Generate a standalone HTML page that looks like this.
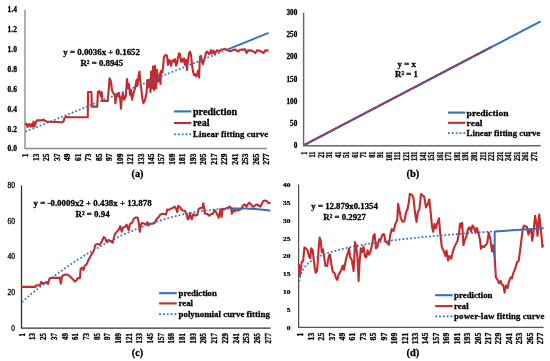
<!DOCTYPE html>
<html><head><meta charset="utf-8"><title>Prediction charts</title>
<style>
html,body{margin:0;padding:0;background:#fff;}
body{width:550px;height:361px;overflow:hidden;}
svg{display:block;font-family:'Liberation Serif', 'Times New Roman', serif;}
text{fill:#000;stroke:#000;stroke-width:0.28px;}
</style></head>
<body>
<svg width="550" height="361" viewBox="0 0 550 361">
<rect width="550" height="361" fill="#fff"/>
<polyline points="25,10 25,148.5 267,148.5" fill="none" stroke="#8c8c8c" stroke-width="1.4"/>
<text transform="translate(16.90,151.47) scale(1,1.04)" font-size="7.5" text-anchor="end" font-weight="bold">0.0</text>
<text transform="translate(16.90,131.57) scale(1,1.04)" font-size="7.5" text-anchor="end" font-weight="bold">0.2</text>
<text transform="translate(16.90,111.67) scale(1,1.04)" font-size="7.5" text-anchor="end" font-weight="bold">0.4</text>
<text transform="translate(16.90,91.77) scale(1,1.04)" font-size="7.5" text-anchor="end" font-weight="bold">0.6</text>
<text transform="translate(16.90,71.87) scale(1,1.04)" font-size="7.5" text-anchor="end" font-weight="bold">0.8</text>
<text transform="translate(16.90,51.97) scale(1,1.04)" font-size="7.5" text-anchor="end" font-weight="bold">1.0</text>
<text transform="translate(16.90,32.07) scale(1,1.04)" font-size="7.5" text-anchor="end" font-weight="bold">1.2</text>
<text transform="translate(16.90,12.17) scale(1,1.04)" font-size="7.5" text-anchor="end" font-weight="bold">1.4</text>
<text transform="translate(28.38,153.60) rotate(-90) scale(1,1.2)" font-size="7.4" text-anchor="end" font-weight="bold">1</text>
<text transform="translate(38.85,153.60) rotate(-90) scale(1,1.2)" font-size="7.4" text-anchor="end" font-weight="bold">13</text>
<text transform="translate(49.32,153.60) rotate(-90) scale(1,1.2)" font-size="7.4" text-anchor="end" font-weight="bold">25</text>
<text transform="translate(59.78,153.60) rotate(-90) scale(1,1.2)" font-size="7.4" text-anchor="end" font-weight="bold">37</text>
<text transform="translate(70.25,153.60) rotate(-90) scale(1,1.2)" font-size="7.4" text-anchor="end" font-weight="bold">49</text>
<text transform="translate(80.72,153.60) rotate(-90) scale(1,1.2)" font-size="7.4" text-anchor="end" font-weight="bold">61</text>
<text transform="translate(91.19,153.60) rotate(-90) scale(1,1.2)" font-size="7.4" text-anchor="end" font-weight="bold">73</text>
<text transform="translate(101.65,153.60) rotate(-90) scale(1,1.2)" font-size="7.4" text-anchor="end" font-weight="bold">85</text>
<text transform="translate(112.12,153.60) rotate(-90) scale(1,1.2)" font-size="7.4" text-anchor="end" font-weight="bold">97</text>
<text transform="translate(122.59,153.60) rotate(-90) scale(1,1.2)" font-size="7.4" text-anchor="end" font-weight="bold">109</text>
<text transform="translate(133.06,153.60) rotate(-90) scale(1,1.2)" font-size="7.4" text-anchor="end" font-weight="bold">121</text>
<text transform="translate(143.52,153.60) rotate(-90) scale(1,1.2)" font-size="7.4" text-anchor="end" font-weight="bold">133</text>
<text transform="translate(153.99,153.60) rotate(-90) scale(1,1.2)" font-size="7.4" text-anchor="end" font-weight="bold">145</text>
<text transform="translate(164.46,153.60) rotate(-90) scale(1,1.2)" font-size="7.4" text-anchor="end" font-weight="bold">157</text>
<text transform="translate(174.93,153.60) rotate(-90) scale(1,1.2)" font-size="7.4" text-anchor="end" font-weight="bold">169</text>
<text transform="translate(185.39,153.60) rotate(-90) scale(1,1.2)" font-size="7.4" text-anchor="end" font-weight="bold">181</text>
<text transform="translate(195.86,153.60) rotate(-90) scale(1,1.2)" font-size="7.4" text-anchor="end" font-weight="bold">193</text>
<text transform="translate(206.33,153.60) rotate(-90) scale(1,1.2)" font-size="7.4" text-anchor="end" font-weight="bold">205</text>
<text transform="translate(216.80,153.60) rotate(-90) scale(1,1.2)" font-size="7.4" text-anchor="end" font-weight="bold">217</text>
<text transform="translate(227.26,153.60) rotate(-90) scale(1,1.2)" font-size="7.4" text-anchor="end" font-weight="bold">229</text>
<text transform="translate(237.73,153.60) rotate(-90) scale(1,1.2)" font-size="7.4" text-anchor="end" font-weight="bold">241</text>
<text transform="translate(248.20,153.60) rotate(-90) scale(1,1.2)" font-size="7.4" text-anchor="end" font-weight="bold">253</text>
<text transform="translate(258.67,153.60) rotate(-90) scale(1,1.2)" font-size="7.4" text-anchor="end" font-weight="bold">265</text>
<text transform="translate(269.14,153.60) rotate(-90) scale(1,1.2)" font-size="7.4" text-anchor="end" font-weight="bold">277</text>
<polyline points="25.3,125.0 26.5,123.5 27.5,127.0 29.0,124.0 30.5,126.5 31.5,124.0 32.5,126.5 33.5,121.5 34.3,126.5 35.3,124.5 36.0,122.0 37.0,120.4 39.0,120.4 42.0,120.4 43.6,119.5 45.0,121.0 47.0,121.6 55.0,122.0 62.0,122.3 63.5,121.5 64.5,118.0 66.0,116.9 70.0,117.2 80.0,117.2 87.8,117.2 88.0,92.0 91.4,92.0 91.8,106.6 97.2,106.6 97.9,92.0 99.4,91.2 101.0,96.5 101.7,92.0 102.5,101.0 107.8,101.0 109.6,78.3 110.9,81.3 112.0,90.4 113.1,92.7 114.7,95.0 115.4,103.3 116.6,93.5 117.7,96.5 118.8,92.7 120.3,99.5 121.0,108.7 121.7,98.2 123.0,93.2 124.0,99.8 125.8,96.5 127.0,79.0 128.0,88.2 129.0,84.0 130.0,94.9 131.0,89.9 132.0,99.8 133.5,93.2 135.0,88.2 136.6,79.9 137.5,85.7 138.6,75.7 139.5,71.6 140.5,83.2 141.5,90.7 142.5,99.8 143.5,103.2 145.0,99.8 146.5,93.2 147.3,80.0 148.0,87.4 149.0,79.9 150.0,83.2 150.5,92.0 151.0,71.6 152.0,88.2 153.0,66.6 154.0,89.9 155.0,65.8 156.0,88.2 157.0,69.9 158.0,81.6 159.0,79.9 160.0,73.3 160.5,84.0 161.0,70.7 162.5,72.4 164.0,56.6 165.5,55.0 167.0,55.8 168.0,64.9 169.0,60.0 170.0,60.8 171.0,65.7 172.0,61.6 173.0,60.0 174.0,61.6 175.0,59.1 176.0,65.7 177.0,63.3 178.0,57.4 179.0,53.3 180.0,54.1 181.0,61.6 182.0,59.1 183.0,61.6 184.0,58.3 185.0,64.9 186.0,60.0 187.0,69.9 188.0,60.0 189.0,53.3 190.0,51.6 191.0,55.0 192.0,64.9 193.0,71.6 194.0,74.9 195.0,74.0 196.0,76.5 197.0,74.9 198.0,70.7 199.0,77.4 200.0,56.6 201.0,55.8 202.0,61.6 203.0,64.1 204.0,59.9 205.0,57.4 206.0,52.5 207.0,51.6 208.0,52.5 209.0,54.1 210.0,53.3 211.0,50.0 212.0,53.4 213.5,50.7 214.8,54.3 217.0,50.1 219.0,51.6 221.0,49.8 225.0,48.9 230.0,51.2 235.0,49.4 238.2,51.6 240.0,49.8 245.0,49.4 246.6,53.0 248.0,50.4 252.0,50.6 255.4,53.0 257.0,50.4 260.0,50.8 263.6,53.0 265.0,50.4 268.5,50.6" fill="none" stroke="#C42B2E" stroke-width="2.1" stroke-linejoin="round" stroke-linecap="butt" />
<line x1="25.4" y1="131.7" x2="225.4" y2="50.39999999999999" stroke="#2E6FC8" stroke-width="1.7" stroke-dasharray="1.8 2.05"/>
<line x1="225.4" y1="50.39999999999999" x2="268.6" y2="32.83919999999999" stroke="#3470C0" stroke-width="2.0" />
<text transform="translate(101.65,55.30) scale(1,0.9)" font-size="8.88" text-anchor="middle" font-weight="bold" >y = 0.0036x + 0.1652</text>
<text transform="translate(101.80,65.50) scale(1,0.9)" font-size="8.85" text-anchor="middle" font-weight="bold" >R² = 0.8945</text>
<line x1="174" y1="111.4" x2="191.4" y2="111.4" stroke="#3470C0" stroke-width="2.1" />
<line x1="174" y1="123" x2="191.4" y2="123" stroke="#C42B2E" stroke-width="2.1" />
<line x1="174" y1="134.4" x2="191.4" y2="134.4" stroke="#2E6FC8" stroke-width="1.7" stroke-dasharray="1.8 2.05"/>
<text transform="translate(193.00,114.60) scale(1,1.0)" font-size="10.1" text-anchor="start" font-weight="bold" >prediction</text>
<text transform="translate(193.00,125.60) scale(1,1.0)" font-size="10.0" text-anchor="start" font-weight="bold" >real</text>
<text transform="translate(193.00,137.20) scale(1,0.9)" font-size="8.8" text-anchor="start" font-weight="bold" letter-spacing="0.08">Linear fitting curve</text>
<text transform="translate(137.50,177.30) scale(1,1.05)" font-size="10.2" text-anchor="middle" font-weight="bold" >(a)</text>
<polyline points="303.6,12.8 303.6,145.7 540.5,145.7" fill="none" stroke="#666" stroke-width="1.4"/>
<text transform="translate(297.30,148.49) scale(1,1.05)" font-size="7.2" text-anchor="end" font-weight="bold">0</text>
<text transform="translate(297.30,126.24) scale(1,1.05)" font-size="7.2" text-anchor="end" font-weight="bold">50</text>
<text transform="translate(297.30,103.99) scale(1,1.05)" font-size="7.2" text-anchor="end" font-weight="bold">100</text>
<text transform="translate(297.30,81.74) scale(1,1.05)" font-size="7.2" text-anchor="end" font-weight="bold">150</text>
<text transform="translate(297.30,59.49) scale(1,1.05)" font-size="7.2" text-anchor="end" font-weight="bold">200</text>
<text transform="translate(297.30,37.24) scale(1,1.05)" font-size="7.2" text-anchor="end" font-weight="bold">250</text>
<text transform="translate(297.30,14.99) scale(1,1.05)" font-size="7.2" text-anchor="end" font-weight="bold">300</text>
<text transform="translate(306.85,151.50) rotate(-90) scale(1,1.3)" font-size="6.3" text-anchor="end" font-weight="bold">1</text>
<text transform="translate(315.36,151.50) rotate(-90) scale(1,1.3)" font-size="6.3" text-anchor="end" font-weight="bold">11</text>
<text transform="translate(323.87,151.50) rotate(-90) scale(1,1.3)" font-size="6.3" text-anchor="end" font-weight="bold">21</text>
<text transform="translate(332.37,151.50) rotate(-90) scale(1,1.3)" font-size="6.3" text-anchor="end" font-weight="bold">31</text>
<text transform="translate(340.88,151.50) rotate(-90) scale(1,1.3)" font-size="6.3" text-anchor="end" font-weight="bold">41</text>
<text transform="translate(349.39,151.50) rotate(-90) scale(1,1.3)" font-size="6.3" text-anchor="end" font-weight="bold">51</text>
<text transform="translate(357.89,151.50) rotate(-90) scale(1,1.3)" font-size="6.3" text-anchor="end" font-weight="bold">61</text>
<text transform="translate(366.40,151.50) rotate(-90) scale(1,1.3)" font-size="6.3" text-anchor="end" font-weight="bold">71</text>
<text transform="translate(374.91,151.50) rotate(-90) scale(1,1.3)" font-size="6.3" text-anchor="end" font-weight="bold">81</text>
<text transform="translate(383.42,151.50) rotate(-90) scale(1,1.3)" font-size="6.3" text-anchor="end" font-weight="bold">91</text>
<text transform="translate(391.92,151.50) rotate(-90) scale(1,1.3)" font-size="6.3" text-anchor="end" font-weight="bold">101</text>
<text transform="translate(400.43,151.50) rotate(-90) scale(1,1.3)" font-size="6.3" text-anchor="end" font-weight="bold">111</text>
<text transform="translate(408.94,151.50) rotate(-90) scale(1,1.3)" font-size="6.3" text-anchor="end" font-weight="bold">121</text>
<text transform="translate(417.44,151.50) rotate(-90) scale(1,1.3)" font-size="6.3" text-anchor="end" font-weight="bold">131</text>
<text transform="translate(425.95,151.50) rotate(-90) scale(1,1.3)" font-size="6.3" text-anchor="end" font-weight="bold">141</text>
<text transform="translate(434.46,151.50) rotate(-90) scale(1,1.3)" font-size="6.3" text-anchor="end" font-weight="bold">151</text>
<text transform="translate(442.96,151.50) rotate(-90) scale(1,1.3)" font-size="6.3" text-anchor="end" font-weight="bold">161</text>
<text transform="translate(451.47,151.50) rotate(-90) scale(1,1.3)" font-size="6.3" text-anchor="end" font-weight="bold">171</text>
<text transform="translate(459.98,151.50) rotate(-90) scale(1,1.3)" font-size="6.3" text-anchor="end" font-weight="bold">181</text>
<text transform="translate(468.49,151.50) rotate(-90) scale(1,1.3)" font-size="6.3" text-anchor="end" font-weight="bold">191</text>
<text transform="translate(476.99,151.50) rotate(-90) scale(1,1.3)" font-size="6.3" text-anchor="end" font-weight="bold">201</text>
<text transform="translate(485.50,151.50) rotate(-90) scale(1,1.3)" font-size="6.3" text-anchor="end" font-weight="bold">211</text>
<text transform="translate(494.01,151.50) rotate(-90) scale(1,1.3)" font-size="6.3" text-anchor="end" font-weight="bold">221</text>
<text transform="translate(502.51,151.50) rotate(-90) scale(1,1.3)" font-size="6.3" text-anchor="end" font-weight="bold">231</text>
<text transform="translate(511.02,151.50) rotate(-90) scale(1,1.3)" font-size="6.3" text-anchor="end" font-weight="bold">241</text>
<text transform="translate(519.53,151.50) rotate(-90) scale(1,1.3)" font-size="6.3" text-anchor="end" font-weight="bold">251</text>
<text transform="translate(528.03,151.50) rotate(-90) scale(1,1.3)" font-size="6.3" text-anchor="end" font-weight="bold">261</text>
<text transform="translate(536.54,151.50) rotate(-90) scale(1,1.3)" font-size="6.3" text-anchor="end" font-weight="bold">271</text>
<line x1="304" y1="145.1" x2="540.6" y2="21.28721999999999" stroke="#3470C0" stroke-width="2.0" />
<line x1="304" y1="145.1" x2="491.6" y2="46.92891999999999" stroke="#C42B2E" stroke-width="2.0" />
<line x1="304" y1="145.1" x2="491.6" y2="46.92891999999999" stroke="#2E6FC8" stroke-width="2.0" stroke-dasharray="1.5 1.5"/>
<text transform="translate(406.70,67.00) scale(1,0.9)" font-size="8.8" text-anchor="middle" font-weight="bold" >y = x</text>
<text transform="translate(406.50,77.20) scale(1,0.9)" font-size="8.8" text-anchor="middle" font-weight="bold" >R² = 1</text>
<line x1="448" y1="112.6" x2="465.4" y2="112.6" stroke="#3470C0" stroke-width="2.1" />
<line x1="448" y1="122.8" x2="465.4" y2="122.8" stroke="#C42B2E" stroke-width="2.1" />
<line x1="448" y1="133.2" x2="465.4" y2="133.2" stroke="#2E6FC8" stroke-width="1.7" stroke-dasharray="1.8 2.05"/>
<text transform="translate(466.60,115.60) scale(1,0.95)" font-size="9.6" text-anchor="start" font-weight="bold" >prediction</text>
<text transform="translate(466.60,125.70) scale(1,0.95)" font-size="9.6" text-anchor="start" font-weight="bold" >real</text>
<text transform="translate(466.60,136.20) scale(1,0.9)" font-size="8.7" text-anchor="start" font-weight="bold" letter-spacing="0.05">Linear fitting curve</text>
<text transform="translate(412.90,177.40) scale(1,1.0)" font-size="10.5" text-anchor="middle" font-weight="bold" >(b)</text>
<polyline points="21.5,185.5 21.5,328.2 270.6,328.2" fill="none" stroke="#333" stroke-width="1.3"/>
<text transform="translate(15.00,330.58) scale(1,0.95)" font-size="7.6" text-anchor="end" font-weight="normal">0</text>
<text transform="translate(15.00,294.98) scale(1,0.95)" font-size="7.6" text-anchor="end" font-weight="normal">20</text>
<text transform="translate(15.00,259.38) scale(1,0.95)" font-size="7.6" text-anchor="end" font-weight="normal">40</text>
<text transform="translate(15.00,223.78) scale(1,0.95)" font-size="7.6" text-anchor="end" font-weight="normal">60</text>
<text transform="translate(15.00,188.18) scale(1,0.95)" font-size="7.6" text-anchor="end" font-weight="normal">80</text>
<text transform="translate(24.76,333.10) rotate(-90) scale(1,1.28)" font-size="6.9" text-anchor="end" font-weight="bold">1</text>
<text transform="translate(35.45,333.10) rotate(-90) scale(1,1.28)" font-size="6.9" text-anchor="end" font-weight="bold">13</text>
<text transform="translate(46.14,333.10) rotate(-90) scale(1,1.28)" font-size="6.9" text-anchor="end" font-weight="bold">25</text>
<text transform="translate(56.83,333.10) rotate(-90) scale(1,1.28)" font-size="6.9" text-anchor="end" font-weight="bold">37</text>
<text transform="translate(67.51,333.10) rotate(-90) scale(1,1.28)" font-size="6.9" text-anchor="end" font-weight="bold">49</text>
<text transform="translate(78.20,333.10) rotate(-90) scale(1,1.28)" font-size="6.9" text-anchor="end" font-weight="bold">61</text>
<text transform="translate(88.89,333.10) rotate(-90) scale(1,1.28)" font-size="6.9" text-anchor="end" font-weight="bold">73</text>
<text transform="translate(99.57,333.10) rotate(-90) scale(1,1.28)" font-size="6.9" text-anchor="end" font-weight="bold">85</text>
<text transform="translate(110.26,333.10) rotate(-90) scale(1,1.28)" font-size="6.9" text-anchor="end" font-weight="bold">97</text>
<text transform="translate(120.95,333.10) rotate(-90) scale(1,1.28)" font-size="6.9" text-anchor="end" font-weight="bold">109</text>
<text transform="translate(131.64,333.10) rotate(-90) scale(1,1.28)" font-size="6.9" text-anchor="end" font-weight="bold">121</text>
<text transform="translate(142.32,333.10) rotate(-90) scale(1,1.28)" font-size="6.9" text-anchor="end" font-weight="bold">133</text>
<text transform="translate(153.01,333.10) rotate(-90) scale(1,1.28)" font-size="6.9" text-anchor="end" font-weight="bold">145</text>
<text transform="translate(163.70,333.10) rotate(-90) scale(1,1.28)" font-size="6.9" text-anchor="end" font-weight="bold">157</text>
<text transform="translate(174.39,333.10) rotate(-90) scale(1,1.28)" font-size="6.9" text-anchor="end" font-weight="bold">169</text>
<text transform="translate(185.07,333.10) rotate(-90) scale(1,1.28)" font-size="6.9" text-anchor="end" font-weight="bold">181</text>
<text transform="translate(195.76,333.10) rotate(-90) scale(1,1.28)" font-size="6.9" text-anchor="end" font-weight="bold">193</text>
<text transform="translate(206.45,333.10) rotate(-90) scale(1,1.28)" font-size="6.9" text-anchor="end" font-weight="bold">205</text>
<text transform="translate(217.13,333.10) rotate(-90) scale(1,1.28)" font-size="6.9" text-anchor="end" font-weight="bold">217</text>
<text transform="translate(227.82,333.10) rotate(-90) scale(1,1.28)" font-size="6.9" text-anchor="end" font-weight="bold">229</text>
<text transform="translate(238.51,333.10) rotate(-90) scale(1,1.28)" font-size="6.9" text-anchor="end" font-weight="bold">241</text>
<text transform="translate(249.20,333.10) rotate(-90) scale(1,1.28)" font-size="6.9" text-anchor="end" font-weight="bold">253</text>
<text transform="translate(259.88,333.10) rotate(-90) scale(1,1.28)" font-size="6.9" text-anchor="end" font-weight="bold">265</text>
<text transform="translate(270.57,333.10) rotate(-90) scale(1,1.28)" font-size="6.9" text-anchor="end" font-weight="bold">277</text>
<polyline points="21.3,286.9 35.5,286.9 36.0,285.2 40.0,285.2 41.3,281.9 43.0,284.0 44.6,283.0 47.1,282.4 48.0,284.0 49.6,278.3 51.2,277.9 58.7,277.9 59.8,277.6 60.8,283.6 61.9,276.7 63.3,275.3 65.4,274.6 67.5,274.6 69.5,276.0 71.6,278.1 73.7,280.2 75.1,281.6 76.5,280.2 77.9,278.1 79.9,278.1 80.6,269.1 82.0,267.7 83.4,269.8 84.8,265.6 86.2,264.9 87.5,262.2 88.9,259.0 90.3,256.6 91.7,253.9 93.1,252.5 94.5,248.3 95.4,244.8 97.5,244.1 99.5,244.8 101.6,242.0 103.7,237.2 105.1,237.9 106.5,242.0 108.5,240.0 110.6,241.3 112.7,242.7 114.8,234.4 116.9,231.6 118.9,229.5 120.3,226.1 121.7,231.6 123.1,227.5 125.2,226.8 126.6,224.7 128.6,230.2 130.0,224.0 132.1,222.6 134.0,218.4 135.8,217.5 137.6,217.5 139.0,223.8 139.8,231.9 141.0,224.7 142.1,222.9 143.9,223.5 145.7,224.7 147.5,222.0 148.4,225.6 150.2,223.5 152.4,223.8 154.7,222.9 156.5,219.3 158.3,217.5 160.1,214.8 161.9,213.9 163.7,213.9 166.1,214.5 167.3,209.4 169.1,209.8 171.0,208.5 172.7,208.0 174.5,206.7 176.0,208.5 177.3,212.1 178.2,205.8 180.0,207.0 181.4,209.4 182.8,210.5 184.8,210.8 186.6,214.2 187.6,219.1 188.6,219.1 190.0,212.9 190.8,217.0 191.8,219.4 193.2,214.2 195.2,215.6 197.3,214.9 198.7,208.7 200.8,208.0 202.4,207.7 203.3,203.2 204.2,208.7 204.9,213.5 207.0,213.8 209.1,215.6 211.2,214.2 213.2,213.5 214.6,210.1 216.0,211.9 217.4,214.9 218.8,217.7 220.2,209.4 221.6,217.0 222.7,208.7 224.3,209.4 226.4,208.0 227.2,208.3 229.4,206.6 231.1,207.7 231.9,213.8 233.0,208.8 234.4,211.6 235.5,210.0 237.7,210.5 240.0,209.7 241.4,208.8 243.0,205.5 245.0,204.4 246.6,206.6 248.1,203.9 249.4,202.7 251.1,204.4 252.5,206.6 254.0,206.6 255.5,205.0 257.2,204.4 258.3,205.5 260.3,206.6 261.6,204.4 263.2,201.1 264.9,200.5 266.6,201.1 268.2,202.7 270.5,203.3" fill="none" stroke="#C42B2E" stroke-width="2.1" stroke-linejoin="round" stroke-linecap="butt" />
<polyline points="21.8,302.0 22.7,301.3 23.6,300.5 24.5,299.7 25.4,299.0 26.3,298.2 27.1,297.5 28.0,296.7 28.9,296.0 29.8,295.2 30.7,294.5 31.6,293.7 32.5,293.0 33.4,292.3 34.3,291.5 35.2,290.8 36.0,290.1 36.9,289.4 37.8,288.7 38.7,287.9 39.6,287.2 40.5,286.5 41.4,285.8 42.3,285.1 43.2,284.4 44.1,283.7 45.0,283.0 45.8,282.4 46.7,281.7 47.6,281.0 48.5,280.3 49.4,279.6 50.3,279.0 51.2,278.3 52.1,277.6 53.0,277.0 53.9,276.3 54.8,275.6 55.6,275.0 56.5,274.3 57.4,273.7 58.3,273.1 59.2,272.4 60.1,271.8 61.0,271.1 61.9,270.5 62.8,269.9 63.7,269.3 64.5,268.6 65.4,268.0 66.3,267.4 67.2,266.8 68.1,266.2 69.0,265.6 69.9,265.0 70.8,264.4 71.7,263.8 72.6,263.2 73.5,262.6 74.3,262.0 75.2,261.4 76.1,260.9 77.0,260.3 77.9,259.7 78.8,259.1 79.7,258.6 80.6,258.0 81.5,257.4 82.4,256.9 83.3,256.3 84.1,255.8 85.0,255.2 85.9,254.7 86.8,254.1 87.7,253.6 88.6,253.1 89.5,252.5 90.4,252.0 91.3,251.5 92.2,251.0 93.0,250.4 93.9,249.9 94.8,249.4 95.7,248.9 96.6,248.4 97.5,247.9 98.4,247.4 99.3,246.9 100.2,246.4 101.1,245.9 102.0,245.4 102.8,244.9 103.7,244.5 104.6,244.0 105.5,243.5 106.4,243.0 107.3,242.6 108.2,242.1 109.1,241.6 110.0,241.2 110.9,240.7 111.8,240.3 112.6,239.8 113.5,239.4 114.4,238.9 115.3,238.5 116.2,238.1 117.1,237.6 118.0,237.2 118.9,236.8 119.8,236.4 120.7,235.9 121.5,235.5 122.4,235.1 123.3,234.7 124.2,234.3 125.1,233.9 126.0,233.5 126.9,233.1 127.8,232.7 128.7,232.3 129.6,231.9 130.5,231.5 131.3,231.1 132.2,230.8 133.1,230.4 134.0,230.0 134.9,229.6 135.8,229.3 136.7,228.9 137.6,228.6 138.5,228.2 139.4,227.8 140.2,227.5 141.1,227.2 142.0,226.8 142.9,226.5 143.8,226.1 144.7,225.8 145.6,225.5 146.5,225.1 147.4,224.8 148.3,224.5 149.2,224.2 150.0,223.9 150.9,223.5 151.8,223.2 152.7,222.9 153.6,222.6 154.5,222.3 155.4,222.0 156.3,221.7 157.2,221.5 158.1,221.2 159.0,220.9 159.8,220.6 160.7,220.3 161.6,220.1 162.5,219.8 163.4,219.5 164.3,219.3 165.2,219.0 166.1,218.7 167.0,218.5 167.9,218.2 168.7,218.0 169.6,217.7 170.5,217.5 171.4,217.3 172.3,217.0 173.2,216.8 174.1,216.6 175.0,216.3 175.9,216.1 176.8,215.9 177.7,215.7 178.5,215.5 179.4,215.2 180.3,215.0 181.2,214.8 182.1,214.6 183.0,214.4 183.9,214.2 184.8,214.1 185.7,213.9 186.6,213.7 187.5,213.5 188.3,213.3 189.2,213.2 190.1,213.0 191.0,212.8 191.9,212.6 192.8,212.5 193.7,212.3 194.6,212.2 195.5,212.0 196.4,211.9 197.2,211.7 198.1,211.6 199.0,211.4 199.9,211.3 200.8,211.2 201.7,211.0 202.6,210.9 203.5,210.8 204.4,210.7 205.3,210.5 206.2,210.4 207.0,210.3 207.9,210.2 208.8,210.1 209.7,210.0 210.6,209.9 211.5,209.8 212.4,209.7 213.3,209.6 214.2,209.6 215.1,209.5 216.0,209.4 216.8,209.3 217.7,209.2 218.6,209.2 219.5,209.1 220.4,209.0 221.3,209.0 222.2,208.9 223.1,208.9 224.0,208.8 224.9,208.8 225.7,208.7 226.6,208.7 227.5,208.7 228.4,208.6" fill="none" stroke="#2E6FC8" stroke-width="1.7" stroke-linejoin="round" stroke-linecap="butt" stroke-dasharray="1.8 2.05"/>
<polyline points="229.3,208.6 230.2,208.6 231.1,208.5 232.0,208.5 232.9,208.5 233.8,208.5 234.7,208.5 235.5,208.5 236.4,208.4 237.3,208.4 238.2,208.4 239.1,208.4 240.0,208.5 240.9,208.5 241.8,208.5 242.7,208.5 243.6,208.5 244.4,208.5 245.3,208.6 246.2,208.6 247.1,208.6 248.0,208.7 248.9,208.7 249.8,208.7 250.7,208.8 251.6,208.8 252.5,208.9 253.4,208.9 254.2,209.0 255.1,209.1 256.0,209.1 256.9,209.2 257.8,209.3 258.7,209.3 259.6,209.4 260.5,209.5 261.4,209.6 262.3,209.7 263.2,209.8 264.0,209.8 264.9,209.9 265.8,210.0 266.7,210.1 267.6,210.3 268.5,210.4 269.4,210.5 270.3,210.6" fill="none" stroke="#3470C0" stroke-width="2.0" stroke-linejoin="round" stroke-linecap="butt" />
<text transform="translate(92.60,206.30) scale(1,0.9)" font-size="8.9" text-anchor="middle" font-weight="bold" >y = -0.0009x2 + 0.438x + 13.878</text>
<text transform="translate(92.60,216.60) scale(1,0.9)" font-size="8.9" text-anchor="middle" font-weight="bold" >R² = 0.94</text>
<line x1="159.1" y1="293.2" x2="176.8" y2="293.2" stroke="#3470C0" stroke-width="2.1" />
<line x1="159.1" y1="303.4" x2="176.8" y2="303.4" stroke="#C42B2E" stroke-width="2.1" />
<line x1="159.1" y1="314.1" x2="176.8" y2="314.1" stroke="#2E6FC8" stroke-width="1.7" stroke-dasharray="1.8 2.05"/>
<text transform="translate(178.50,295.90) scale(1,0.9)" font-size="8.8" text-anchor="start" font-weight="bold" >prediction</text>
<text transform="translate(178.50,306.10) scale(1,0.9)" font-size="8.8" text-anchor="start" font-weight="bold" >real</text>
<text transform="translate(178.50,316.50) scale(1,0.9)" font-size="8.9" text-anchor="start" font-weight="bold" >polynomial curve fitting</text>
<text transform="translate(137.40,355.60) scale(1,1.0)" font-size="10.2" text-anchor="middle" font-weight="bold" >(c)</text>
<polyline points="298.6,184.4 298.6,327.3 543.6,327.3" fill="none" stroke="#555" stroke-width="1.3"/>
<text transform="translate(290.50,330.05) scale(1,0.88)" font-size="7.4" text-anchor="end" font-weight="bold">0</text>
<text transform="translate(290.50,312.15) scale(1,0.88)" font-size="7.4" text-anchor="end" font-weight="bold">5</text>
<text transform="translate(290.50,294.25) scale(1,0.88)" font-size="7.4" text-anchor="end" font-weight="bold">10</text>
<text transform="translate(290.50,276.35) scale(1,0.88)" font-size="7.4" text-anchor="end" font-weight="bold">15</text>
<text transform="translate(290.50,258.45) scale(1,0.88)" font-size="7.4" text-anchor="end" font-weight="bold">20</text>
<text transform="translate(290.50,240.55) scale(1,0.88)" font-size="7.4" text-anchor="end" font-weight="bold">25</text>
<text transform="translate(290.50,222.65) scale(1,0.88)" font-size="7.4" text-anchor="end" font-weight="bold">30</text>
<text transform="translate(290.50,204.75) scale(1,0.88)" font-size="7.4" text-anchor="end" font-weight="bold">35</text>
<text transform="translate(290.50,186.85) scale(1,0.88)" font-size="7.4" text-anchor="end" font-weight="bold">40</text>
<text transform="translate(303.27,332.70) rotate(-90) scale(1,1.19)" font-size="7.7" text-anchor="end" font-weight="bold">1</text>
<text transform="translate(313.70,332.70) rotate(-90) scale(1,1.19)" font-size="7.7" text-anchor="end" font-weight="bold">13</text>
<text transform="translate(324.13,332.70) rotate(-90) scale(1,1.19)" font-size="7.7" text-anchor="end" font-weight="bold">25</text>
<text transform="translate(334.56,332.70) rotate(-90) scale(1,1.19)" font-size="7.7" text-anchor="end" font-weight="bold">37</text>
<text transform="translate(344.99,332.70) rotate(-90) scale(1,1.19)" font-size="7.7" text-anchor="end" font-weight="bold">49</text>
<text transform="translate(355.41,332.70) rotate(-90) scale(1,1.19)" font-size="7.7" text-anchor="end" font-weight="bold">61</text>
<text transform="translate(365.84,332.70) rotate(-90) scale(1,1.19)" font-size="7.7" text-anchor="end" font-weight="bold">73</text>
<text transform="translate(376.27,332.70) rotate(-90) scale(1,1.19)" font-size="7.7" text-anchor="end" font-weight="bold">85</text>
<text transform="translate(386.70,332.70) rotate(-90) scale(1,1.19)" font-size="7.7" text-anchor="end" font-weight="bold">97</text>
<text transform="translate(397.13,332.70) rotate(-90) scale(1,1.19)" font-size="7.7" text-anchor="end" font-weight="bold">109</text>
<text transform="translate(407.55,332.70) rotate(-90) scale(1,1.19)" font-size="7.7" text-anchor="end" font-weight="bold">121</text>
<text transform="translate(417.98,332.70) rotate(-90) scale(1,1.19)" font-size="7.7" text-anchor="end" font-weight="bold">133</text>
<text transform="translate(428.41,332.70) rotate(-90) scale(1,1.19)" font-size="7.7" text-anchor="end" font-weight="bold">145</text>
<text transform="translate(438.84,332.70) rotate(-90) scale(1,1.19)" font-size="7.7" text-anchor="end" font-weight="bold">157</text>
<text transform="translate(449.27,332.70) rotate(-90) scale(1,1.19)" font-size="7.7" text-anchor="end" font-weight="bold">169</text>
<text transform="translate(459.69,332.70) rotate(-90) scale(1,1.19)" font-size="7.7" text-anchor="end" font-weight="bold">181</text>
<text transform="translate(470.12,332.70) rotate(-90) scale(1,1.19)" font-size="7.7" text-anchor="end" font-weight="bold">193</text>
<text transform="translate(480.55,332.70) rotate(-90) scale(1,1.19)" font-size="7.7" text-anchor="end" font-weight="bold">205</text>
<text transform="translate(490.98,332.70) rotate(-90) scale(1,1.19)" font-size="7.7" text-anchor="end" font-weight="bold">217</text>
<text transform="translate(501.41,332.70) rotate(-90) scale(1,1.19)" font-size="7.7" text-anchor="end" font-weight="bold">229</text>
<text transform="translate(511.83,332.70) rotate(-90) scale(1,1.19)" font-size="7.7" text-anchor="end" font-weight="bold">241</text>
<text transform="translate(522.26,332.70) rotate(-90) scale(1,1.19)" font-size="7.7" text-anchor="end" font-weight="bold">253</text>
<text transform="translate(532.69,332.70) rotate(-90) scale(1,1.19)" font-size="7.7" text-anchor="end" font-weight="bold">265</text>
<text transform="translate(543.12,332.70) rotate(-90) scale(1,1.19)" font-size="7.7" text-anchor="end" font-weight="bold">277</text>
<polyline points="298.8,264.0 299.8,276.0 300.6,270.0 301.8,261.9 303.1,261.0 304.4,247.5 305.8,248.4 307.6,250.2 309.0,256.5 310.3,258.3 311.2,248.4 312.7,250.2 313.6,259.2 314.8,268.2 315.7,272.7 317.0,270.9 318.1,257.4 319.0,243.9 319.7,237.6 320.8,241.2 321.7,252.0 322.9,249.3 324.2,257.4 325.3,265.5 327.1,266.1 328.9,255.6 330.1,254.7 331.4,264.6 332.8,271.8 334.3,272.7 336.1,278.2 337.3,280.0 338.6,274.5 340.0,272.7 341.5,269.1 342.7,265.5 344.0,270.0 345.1,263.7 346.7,256.5 348.2,252.0 349.1,248.4 350.0,256.5 351.8,260.1 353.6,271.0 355.0,242.1 356.3,246.6 357.7,261.0 358.6,280.9 359.5,262.8 360.8,248.4 362.2,252.0 363.5,246.6 365.0,256.5 366.2,257.4 367.7,250.2 369.0,254.7 370.5,252.0 372.0,244.8 373.4,235.8 374.6,234.0 376.0,248.4 377.5,246.6 379.0,239.4 380.4,240.3 382.3,234.9 384.0,234.0 385.5,241.2 387.4,243.0 389.0,244.8 390.0,236.0 391.8,229.1 393.6,231.0 395.4,223.7 397.2,220.1 398.1,203.9 399.4,210.2 400.8,218.3 402.6,221.9 404.4,221.0 406.2,212.0 407.5,209.3 408.9,202.1 409.8,194.0 412.0,194.9 413.4,197.6 414.9,212.0 416.5,221.9 417.9,212.0 419.4,209.3 421.0,194.0 423.0,195.8 424.2,196.7 426.0,207.5 427.5,204.8 429.3,199.4 430.9,214.7 432.0,226.4 433.2,231.8 434.5,223.7 435.9,228.2 437.4,222.8 439.0,218.3 440.1,231.8 441.8,247.0 443.6,250.6 445.4,256.0 446.5,250.6 448.1,260.5 449.5,256.0 451.2,258.7 452.6,252.4 454.4,247.0 456.2,243.4 457.5,240.7 458.9,233.5 460.0,223.6 461.3,227.2 462.2,222.7 463.4,245.2 464.9,239.8 466.5,236.2 467.9,229.0 469.5,227.2 471.0,231.7 472.5,225.4 473.9,227.2 475.5,232.6 476.9,228.1 478.5,233.5 480.0,239.8 481.0,248.8 482.5,246.1 484.1,247.0 485.5,245.2 487.2,243.4 488.7,232.6 490.5,239.8 492.0,251.5 493.2,245.2 494.7,257.4 495.9,277.4 497.5,279.7 498.9,283.2 500.6,280.9 501.8,284.4 503.4,285.6 504.6,292.6 506.0,285.6 507.6,288.0 508.8,282.0 510.7,277.4 511.9,278.5 513.5,272.6 515.4,268.0 517.1,262.1 518.7,260.9 520.1,250.3 521.3,240.9 522.6,229.7 524.0,225.6 525.4,226.3 527.0,227.0 528.4,234.6 529.5,230.4 531.0,229.7 532.3,240.8 533.7,229.7 535.1,215.9 536.4,222.8 537.5,236.0 539.2,214.5 540.3,224.2 541.6,237.3 542.4,247.0 543.4,244.3" fill="none" stroke="#C42B2E" stroke-width="2.1" stroke-linejoin="round" stroke-linecap="butt" />
<polyline points="299.2,281.3 299.6,278.7 300.1,276.8 300.5,275.2 300.9,273.9 301.4,272.8 301.8,271.8 302.2,270.9 302.7,270.1 303.1,269.3 303.5,268.6 304.0,268.0 304.4,267.4 304.8,266.8 305.3,266.3 305.7,265.8 306.2,265.3 306.6,264.9 307.0,264.4 307.5,264.0 307.9,263.6 308.3,263.2 308.8,262.9 309.2,262.5 309.6,262.1 310.1,261.8 310.5,261.5 310.9,261.2 311.4,260.9 311.8,260.6 312.2,260.3 312.7,260.0 313.1,259.7 313.5,259.5 314.0,259.2 314.4,259.0 314.8,258.7 315.3,258.5 315.7,258.2 316.1,258.0 316.6,257.8 317.0,257.5 317.4,257.3 317.9,257.1 318.3,256.9 318.8,256.7 319.2,256.5 319.6,256.3 320.1,256.1 320.5,255.9 320.9,255.7 321.4,255.5 321.8,255.4 322.2,255.2 322.7,255.0 323.1,254.8 323.5,254.7 324.0,254.5 324.4,254.3 324.8,254.2 325.3,254.0 325.7,253.8 326.1,253.7 326.6,253.5 327.0,253.4 327.4,253.2 327.9,253.1 328.3,252.9 328.7,252.8 329.2,252.6 329.6,252.5 330.0,252.4 330.5,252.2 330.9,252.1 331.4,251.9 331.8,251.8 332.2,251.7 332.7,251.6 333.1,251.4 333.5,251.3 334.0,251.2 334.4,251.0 334.8,250.9 335.3,250.8 335.7,250.7 336.1,250.6 336.6,250.4 337.0,250.3 337.4,250.2 337.9,250.1 338.3,250.0 338.7,249.9 339.2,249.7 339.6,249.6 340.0,249.5 340.5,249.4 340.9,249.3 341.3,249.2 341.8,249.1 342.2,249.0 342.6,248.9 343.1,248.8 343.5,248.7 344.0,248.6 344.4,248.5 344.8,248.4 345.3,248.3 345.7,248.2 346.1,248.1 346.6,248.0 347.0,247.9 347.4,247.8 347.9,247.7 348.3,247.6 348.7,247.5 349.2,247.4 349.6,247.3 350.0,247.2 350.5,247.1 350.9,247.0 351.3,247.0 351.8,246.9 352.2,246.8 352.6,246.7 353.1,246.6 353.5,246.5 353.9,246.4 354.4,246.3 354.8,246.3 355.3,246.2 355.7,246.1 356.1,246.0 356.6,245.9 357.0,245.8 357.4,245.8 357.9,245.7 358.3,245.6 358.7,245.5 359.2,245.4 359.6,245.4 360.0,245.3 360.5,245.2 360.9,245.1 361.3,245.1 361.8,245.0 362.2,244.9 362.6,244.8 363.1,244.7 363.5,244.7 363.9,244.6 364.4,244.5 364.8,244.5 365.2,244.4 365.7,244.3 366.1,244.2 366.5,244.2 367.0,244.1 367.4,244.0 367.9,243.9 368.3,243.9 368.7,243.8 369.2,243.7 369.6,243.7 370.0,243.6 370.5,243.5 370.9,243.5 371.3,243.4 371.8,243.3 372.2,243.3 372.6,243.2 373.1,243.1 373.5,243.1 373.9,243.0 374.4,242.9 374.8,242.9 375.2,242.8 375.7,242.7 376.1,242.7 376.5,242.6 377.0,242.5 377.4,242.5 377.8,242.4 378.3,242.4 378.7,242.3 379.1,242.2 379.6,242.2 380.0,242.1 380.5,242.0 380.9,242.0 381.3,241.9 381.8,241.9 382.2,241.8 382.6,241.7 383.1,241.7 383.5,241.6 383.9,241.6 384.4,241.5 384.8,241.4 385.2,241.4 385.7,241.3 386.1,241.3 386.5,241.2 387.0,241.2 387.4,241.1 387.8,241.0 388.3,241.0 388.7,240.9 389.1,240.9 389.6,240.8 390.0,240.8 390.4,240.7 390.9,240.7 391.3,240.6 391.7,240.5 392.2,240.5 392.6,240.4 393.1,240.4 393.5,240.3 393.9,240.3 394.4,240.2 394.8,240.2 395.2,240.1 395.7,240.1 396.1,240.0 396.5,240.0 397.0,239.9 397.4,239.8 397.8,239.8 398.3,239.7 398.7,239.7 399.1,239.6 399.6,239.6 400.0,239.5 400.4,239.5 400.9,239.4 401.3,239.4 401.7,239.3 402.2,239.3 402.6,239.2 403.0,239.2 403.5,239.1 403.9,239.1 404.3,239.0 404.8,239.0 405.2,238.9 405.7,238.9 406.1,238.8 406.5,238.8 407.0,238.7 407.4,238.7 407.8,238.7 408.3,238.6 408.7,238.6 409.1,238.5 409.6,238.5 410.0,238.4 410.4,238.4 410.9,238.3 411.3,238.3 411.7,238.2 412.2,238.2 412.6,238.1 413.0,238.1 413.5,238.0 413.9,238.0 414.3,238.0 414.8,237.9 415.2,237.9 415.6,237.8 416.1,237.8 416.5,237.7 416.9,237.7 417.4,237.6 417.8,237.6 418.3,237.6 418.7,237.5 419.1,237.5 419.6,237.4 420.0,237.4 420.4,237.3 420.9,237.3 421.3,237.2 421.7,237.2 422.2,237.2 422.6,237.1 423.0,237.1 423.5,237.0 423.9,237.0 424.3,236.9 424.8,236.9 425.2,236.9 425.6,236.8 426.1,236.8 426.5,236.7 426.9,236.7 427.4,236.7 427.8,236.6 428.2,236.6 428.7,236.5 429.1,236.5 429.5,236.5 430.0,236.4 430.4,236.4 430.9,236.3 431.3,236.3 431.7,236.2 432.2,236.2 432.6,236.2 433.0,236.1 433.5,236.1 433.9,236.0 434.3,236.0 434.8,236.0 435.2,235.9 435.6,235.9 436.1,235.9 436.5,235.8 436.9,235.8 437.4,235.7 437.8,235.7 438.2,235.7 438.7,235.6 439.1,235.6 439.5,235.5 440.0,235.5 440.4,235.5 440.8,235.4 441.3,235.4 441.7,235.4 442.2,235.3 442.6,235.3 443.0,235.2 443.5,235.2 443.9,235.2 444.3,235.1 444.8,235.1 445.2,235.1 445.6,235.0 446.1,235.0 446.5,234.9 446.9,234.9 447.4,234.9 447.8,234.8 448.2,234.8 448.7,234.8 449.1,234.7 449.5,234.7 450.0,234.7 450.4,234.6 450.8,234.6 451.3,234.5 451.7,234.5 452.1,234.5 452.6,234.4 453.0,234.4 453.4,234.4 453.9,234.3 454.3,234.3 454.8,234.3 455.2,234.2 455.6,234.2 456.1,234.2 456.5,234.1 456.9,234.1 457.4,234.1 457.8,234.0 458.2,234.0 458.7,233.9 459.1,233.9 459.5,233.9 460.0,233.8 460.4,233.8 460.8,233.8 461.3,233.7 461.7,233.7 462.1,233.7 462.6,233.6 463.0,233.6 463.4,233.6 463.9,233.5 464.3,233.5 464.7,233.5 465.2,233.4 465.6,233.4 466.0,233.4 466.5,233.3 466.9,233.3 467.4,233.3 467.8,233.2 468.2,233.2 468.7,233.2 469.1,233.1 469.5,233.1 470.0,233.1 470.4,233.1 470.8,233.0 471.3,233.0 471.7,233.0 472.1,232.9 472.6,232.9 473.0,232.9 473.4,232.8 473.9,232.8 474.3,232.8 474.7,232.7 475.2,232.7 475.6,232.7 476.0,232.6 476.5,232.6 476.9,232.6 477.3,232.5 477.8,232.5 478.2,232.5 478.6,232.5 479.1,232.4 479.5,232.4 480.0,232.4 480.4,232.3 480.8,232.3 481.3,232.3 481.7,232.2 482.1,232.2 482.6,232.2 483.0,232.1 483.4,232.1 483.9,232.1 484.3,232.1 484.7,232.0 485.2,232.0 485.6,232.0 486.0,231.9 486.5,231.9 486.9,231.9 487.3,231.8 487.8,231.8 488.2,231.8 488.6,231.8 489.1,231.7 489.5,231.7 489.9,231.7 490.4,231.6 490.8,231.6 491.2,231.6 491.7,231.5 492.1,231.5 492.6,231.5 493.0,231.5 493.4,231.4" fill="none" stroke="#2E6FC8" stroke-width="1.7" stroke-linejoin="round" stroke-linecap="butt" stroke-dasharray="1.8 2.05"/>
<polyline points="494.7,257.4 494.7,231.5 543.6,228.2" fill="none" stroke="#3470C0" stroke-width="2.0" stroke-linejoin="round" stroke-linecap="butt" />
<text transform="translate(344.60,208.70) scale(1,0.9)" font-size="8.8" text-anchor="middle" font-weight="bold" >y = 12.879x0.1354</text>
<text transform="translate(344.60,219.80) scale(1,0.9)" font-size="8.8" text-anchor="middle" font-weight="bold" >R² = 0.2927</text>
<line x1="435.2" y1="295.2" x2="452.7" y2="295.2" stroke="#3470C0" stroke-width="2.1" />
<line x1="435.2" y1="306.1" x2="452.7" y2="306.1" stroke="#C42B2E" stroke-width="2.1" />
<line x1="435.2" y1="316.4" x2="452.7" y2="316.4" stroke="#2E6FC8" stroke-width="1.7" stroke-dasharray="1.8 2.05"/>
<text transform="translate(454.10,297.90) scale(1,0.9)" font-size="8.8" text-anchor="start" font-weight="bold" >prediction</text>
<text transform="translate(454.10,308.80) scale(1,0.9)" font-size="8.8" text-anchor="start" font-weight="bold" >real</text>
<text transform="translate(454.10,318.80) scale(1,0.9)" font-size="8.86" text-anchor="start" font-weight="bold" letter-spacing="0.1">power-law fitting curve</text>
<text transform="translate(412.90,356.00) scale(1,1.0)" font-size="10.5" text-anchor="middle" font-weight="bold" >(d)</text>
</svg>
</body></html>
